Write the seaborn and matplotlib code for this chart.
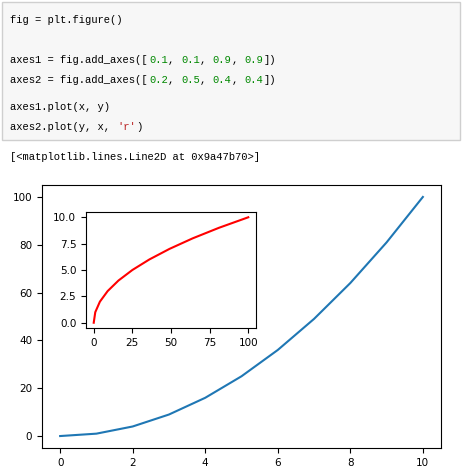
import matplotlib
matplotlib.use("Agg")
import matplotlib.pyplot as plt
import seaborn as sns
from matplotlib.patches import Rectangle

x = [0, 1, 2, 3, 4, 5, 6, 7, 8, 9, 10]
y = [0, 1, 4, 9, 16, 25, 36, 49, 64, 81, 100]

fig = plt.figure(figsize=(4.62, 4.71), dpi=100)
W, H = 462, 471

fig.patches.append(Rectangle((2/W, 1-140/H), 458/W, 138/H, transform=fig.transFigure,
                             facecolor="#f7f7f7", edgecolor="#cfcfcf", lw=1))
mono = "Liberation Mono"
FS = 7.6
CW = FS * 100 / 72 * 0.6

def code(px, py, parts):
    xx = px
    for s, c in parts:
        fig.text(xx / W, 1 - py / H, s, family=mono, fontsize=FS, color=c, va="center", ha="left")
        xx += len(s) * CW

k = "#000000"; g = "#008800"; r = "#BA2121"
code(10, 20, [("fig = plt.figure()", k)])
code(10, 60, [("axes1 = fig.add_axes([", k), ("0.1", g), (", ", k), ("0.1", g), (", ", k), ("0.9", g), (", ", k), ("0.9", g), ("])", k)])
code(10, 80, [("axes2 = fig.add_axes([", k), ("0.2", g), (", ", k), ("0.5", g), (", ", k), ("0.4", g), (", ", k), ("0.4", g), ("])", k)])
code(10, 107, [("axes1.plot(x, y)", k)])
code(10, 127, [("axes2.plot(y, x, ", k), ("'r'", r), (")", k)])
fig.text(10/W, 1-157/H, "[<matplotlib.lines.Line2D at 0x9a47b70>]", family=mono, fontsize=FS,
         color="black", va="center", ha="left")

ax1 = fig.add_axes([42/W, 1-448/H, 399/W, 263/H])
sns.lineplot(x=x, y=y, ax=ax1, color="#1f77b4")
ax1.set_xlim(-0.5, 10.5)
ax1.set_ylim(-5, 105)
ax1.set_xticks([0, 2, 4, 6, 8, 10])
ax1.set_yticks([0, 20, 40, 60, 80, 100])
ax1.tick_params(labelsize=7.5)

ax2 = fig.add_axes([86/W, 1-328/H, 170/W, 116/H])
sns.lineplot(x=y, y=x, ax=ax2, color="red", orient="y")
ax2.set_xlim(-5, 105)
ax2.set_ylim(-0.5, 10.5)
ax2.set_xticks([0, 25, 50, 75, 100])
ax2.set_yticks([0, 2.5, 5, 7.5, 10])
ax2.tick_params(labelsize=7.5)

fig.savefig("out.png", dpi=100)
